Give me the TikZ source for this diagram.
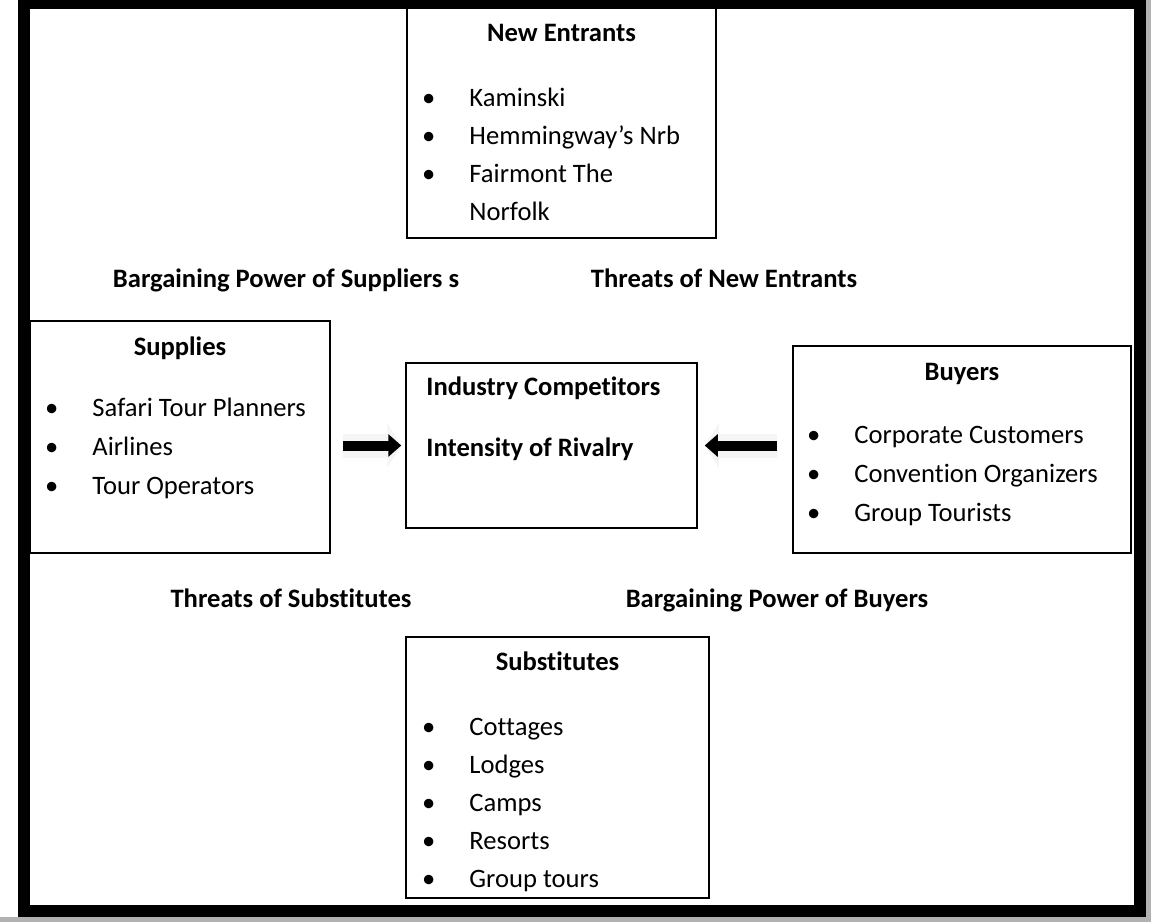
\documentclass[tikz,border=0pt]{standalone}
\usepackage{fontspec}
\setmainfont[Ligatures=NoCommon]{Carlito}
\usepackage{tikz}
\usetikzlibrary{arrows.meta,positioning,calc,fit}

\newcommand{\pbul}{\llap{•\hspace{34pt}}}

\begin{document}
\begin{tikzpicture}[
  x=1pt, y=-1pt,
  font=\fontsize{26.6}{32}\selectfont,
  box/.style={draw, line width=1.5pt, inner sep=0pt},
  ttl/.style={font=\fontsize{26.6}{32}\selectfont\bfseries, inner sep=0pt, text height=18pt, text depth=6pt, yshift=-3.5pt},
  item/.style={anchor=west, inner sep=0pt, text height=18pt, text depth=6pt, yshift=-3.5pt},
  arr/.style={line width=10pt, -{Triangle[length=13pt, width=22pt]},
    preaction={draw=black!4, line width=24pt, -{Triangle[length=14pt, width=44pt]}}}
]
\fill[white] (0,0) rectangle (1151,922);
\useasboundingbox (0,0) rectangle (1151,922);

% outer frame with its shadow
\fill[black!30] (0,917) rectangle (1151,922);
\fill[black!30] (1146,0) rectangle (1151,922);
\node[draw, line width=12pt, inner sep=0pt, fit={(24,3) (1139.5,911)}] (frame) {};

% the five boxes
\node[box, fit={(407,0) (716,238)}] (ne) {};
\node[box, fit={(30,321) (330,553)}] (sup) {};
\node[box, fit={(406,363) (697,528)}] (comp) {};
\node[box, fit={(793,346) (1131,553)}] (buy) {};
\node[box, fit={(406,637) (709,898)}] (sub) {};

\node[ttl] (neT) at ($(ne.north)+(0,33)$) {New Entrants};
\node[ttl] (supT) at ($(sup.north)+(0,26)$) {Supplies};
\node[ttl] (buyT) at ($(buy.north)+(0,26)$) {Buyers};
\node[ttl] (subT) at ($(sub.north)+(0,25)$) {Substitutes};
\node[ttl, anchor=west] (compT) at ($(comp.north west)+(21,24)$) {Industry Competitors};
\node[ttl, anchor=west] (compR) at ($(comp.north west)+(21,85)$) {Intensity of Rivalry};

\foreach \t [count=\i] in {Kaminski, Hemmingway’s Nrb, Fairmont The}
  \node[item] (ne\i) at ($(ne.north west)+(63,60+38*\i)$) {\pbul\t};
\node[item] (ne4) at ($(ne.north west)+(63,212)$) {Norfolk};
\foreach \t [count=\i] in {Safari Tour Planners, Airlines, Tour Operators}
  \node[item] (sup\i) at ($(sup.north west)+(63,48+39*\i)$) {\pbul\t};
\foreach \t [count=\i] in {Corporate Customers, Convention Organizers, Group Tourists}
  \node[item] (buy\i) at ($(buy.north west)+(62,50+39*\i)$) {\pbul\t};
\foreach \t [count=\i] in {Cottages, Lodges, Camps, Resorts, Group tours}
  \node[item] (sub\i) at ($(sub.north west)+(64,52+38*\i)$) {\pbul\t};

% forces
\node[ttl] (lSup) at (286,278) {Bargaining Power of Suppliers s};
\node[ttl] (lNew) at (724,278) {Threats of New Entrants};
\node[ttl] (lSub) at (291,598) {Threats of Substitutes};
\node[ttl] (lBuy) at (777,598) {Bargaining Power of Buyers};

\draw[arr, shorten <=12pt, shorten >=4pt] (sup.east |- comp.west) -- (comp.west);
\draw[arr, shorten <=15pt, shorten >=7pt] (buy.west |- comp.east) -- (comp.east);
\end{tikzpicture}
\end{document}
